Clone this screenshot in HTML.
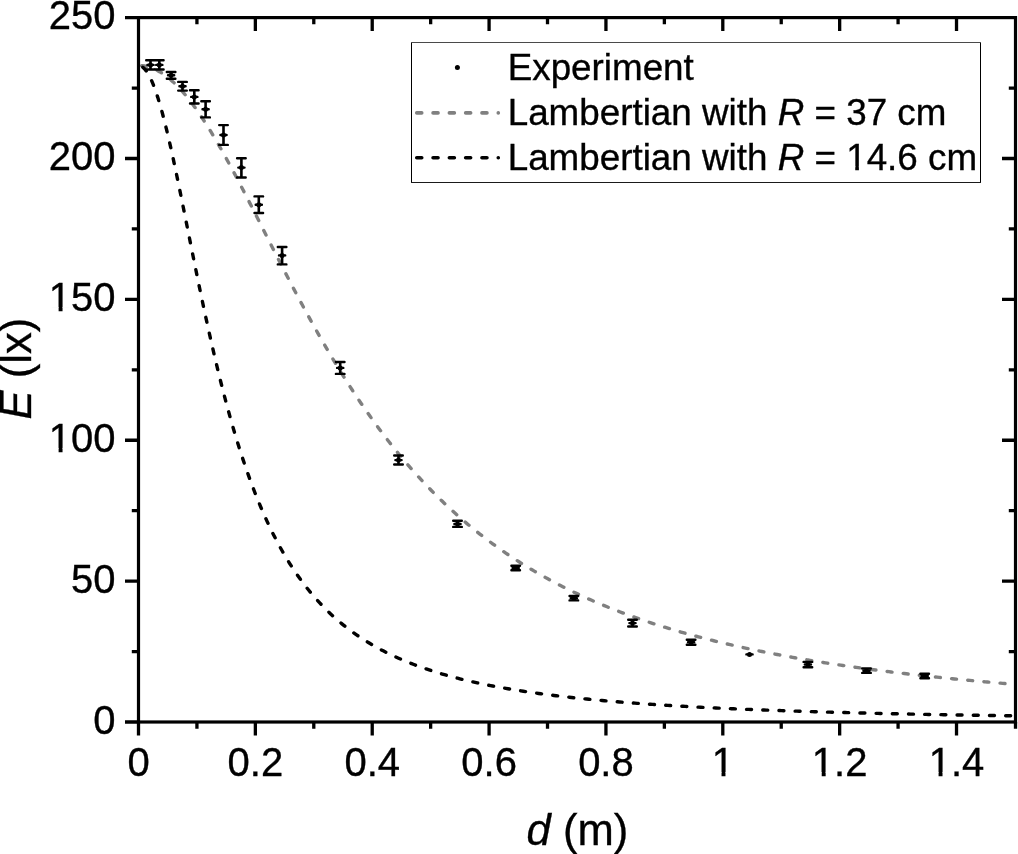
<!DOCTYPE html>
<html><head><meta charset="utf-8"><style>
html,body{margin:0;padding:0;background:#fff;overflow:hidden}
svg{display:block}
</style></head><body>
<svg width="1018" height="854" viewBox="0 0 1018 854">
<rect width="1018" height="854" fill="#fff"/>
<path d="M140.25,65.54 L142.44,65.72 L144.63,66.03 L146.82,66.47 L149.01,67.05 L151.20,67.76 L153.39,68.60 L155.58,69.57 L157.76,70.67 L159.95,71.90 L162.14,73.26 L164.33,74.74 L166.52,76.35 L168.71,78.07 L170.90,79.92 L173.09,81.88 L175.28,83.96 L177.46,86.15 L179.65,88.46 L181.84,90.87 L184.03,93.38 L186.22,96.00 L188.41,98.72 L190.60,101.53 L192.79,104.44 L194.98,107.44 L197.17,110.53 L199.35,113.70 L201.54,116.95 L203.73,120.28 L205.92,123.69 L208.11,127.17 L210.30,130.72 L212.49,134.33 L214.68,138.01 L216.87,141.74 L219.05,145.53 L221.24,149.38 L223.43,153.27 L225.62,157.22 L227.81,161.20 L230.00,165.23 L232.19,169.30 L234.38,173.40 L236.57,177.53 L238.75,181.69 L240.94,185.88 L243.13,190.09 L245.32,194.33 L247.51,198.58 L249.70,202.85 L251.89,207.13 L254.08,211.42 L256.27,215.73 L258.46,220.04 L260.64,224.35 L262.83,228.67 L265.02,232.99 L267.21,237.30 L269.40,241.61 L271.59,245.92 L273.78,250.22 L275.97,254.51 L278.16,258.79 L280.34,263.06 L282.53,267.32 L284.72,271.56 L286.91,275.78 L289.10,279.99 L291.29,284.18 L293.48,288.35 L295.67,292.49 L297.86,296.62 L300.05,300.72 L302.23,304.80 L304.42,308.85 L306.61,312.88 L308.80,316.88 L310.99,320.86 L313.18,324.80 L315.37,328.72 L317.56,332.61 L319.75,336.47 L321.93,340.30 L324.12,344.09 L326.31,347.86 L328.50,351.60 L330.69,355.30 L332.88,358.97 L335.07,362.61 L337.26,366.22 L339.45,369.79 L341.63,373.33 L343.82,376.84 L346.01,380.31 L348.20,383.75 L350.39,387.16 L352.58,390.53 L354.77,393.87 L356.96,397.17 L359.15,400.44 L361.34,403.68 L363.52,406.89 L365.71,410.06 L367.90,413.20 L370.09,416.30 L372.28,419.37 L374.47,422.41 L376.66,425.42 L378.85,428.39 L381.04,431.33 L383.22,434.24 L385.41,437.11 L387.60,439.95 L389.79,442.77 L391.98,445.55 L394.17,448.29 L396.36,451.01 L398.55,453.70 L400.74,456.35 L402.92,458.98 L405.11,461.57 L407.30,464.14 L409.49,466.67 L411.68,469.18 L413.87,471.66 L416.06,474.10 L418.25,476.52 L420.44,478.91 L422.63,481.28 L424.81,483.61 L427.00,485.92 L429.19,488.20 L431.38,490.45 L433.57,492.68 L435.76,494.88 L437.95,497.06 L440.14,499.21 L442.33,501.33 L444.51,503.43 L446.70,505.50 L448.89,507.55 L451.08,509.57 L453.27,511.58 L455.46,513.55 L457.65,515.51 L459.84,517.44 L462.03,519.34 L464.22,521.23 L466.40,523.09 L468.59,524.93 L470.78,526.75 L472.97,528.54 L475.16,530.32 L477.35,532.07 L479.54,533.81 L481.73,535.52 L483.92,537.21 L486.10,538.89 L488.29,540.54 L490.48,542.17 L492.67,543.79 L494.86,545.38 L497.05,546.96 L499.24,548.52 L501.43,550.06 L503.62,551.58 L505.80,553.08 L507.99,554.57 L510.18,556.04 L512.37,557.49 L514.56,558.93 L516.75,560.35 L518.94,561.75 L521.13,563.13 L523.32,564.50 L525.51,565.86 L527.69,567.20 L529.88,568.52 L532.07,569.83 L534.26,571.12 L536.45,572.40 L538.64,573.66 L540.83,574.91 L543.02,576.14 L545.21,577.37 L547.39,578.57 L549.58,579.77 L551.77,580.95 L553.96,582.11 L556.15,583.27 L558.34,584.41 L560.53,585.53 L562.72,586.65 L564.91,587.75 L567.10,588.84 L569.28,589.92 L571.47,590.99 L573.66,592.04 L575.85,593.08 L578.04,594.12 L580.23,595.14 L582.42,596.14 L584.61,597.14 L586.80,598.13 L588.98,599.10 L591.17,600.07 L593.36,601.02 L595.55,601.97 L597.74,602.90 L599.93,603.83 L602.12,604.74 L604.31,605.65 L606.50,606.54 L608.68,607.43 L610.87,608.30 L613.06,609.17 L615.25,610.03 L617.44,610.88 L619.63,611.72 L621.82,612.55 L624.01,613.37 L626.20,614.18 L628.39,614.99 L630.57,615.78 L632.76,616.57 L634.95,617.35 L637.14,618.12 L639.33,618.88 L641.52,619.64 L643.71,620.39 L645.90,621.13 L648.09,621.86 L650.27,622.59 L652.46,623.31 L654.65,624.02 L656.84,624.72 L659.03,625.42 L661.22,626.10 L663.41,626.79 L665.60,627.46 L667.79,628.13 L669.97,628.79 L672.16,629.45 L674.35,630.10 L676.54,630.74 L678.73,631.38 L680.92,632.01 L683.11,632.63 L685.30,633.25 L687.49,633.86 L689.68,634.46 L691.86,635.06 L694.05,635.66 L696.24,636.25 L698.43,636.83 L700.62,637.41 L702.81,637.98 L705.00,638.54 L707.19,639.10 L709.38,639.66 L711.56,640.21 L713.75,640.75 L715.94,641.29 L718.13,641.82 L720.32,642.35 L722.51,642.88 L724.70,643.40 L726.89,643.91 L729.08,644.42 L731.27,644.93 L733.45,645.43 L735.64,645.92 L737.83,646.41 L740.02,646.90 L742.21,647.38 L744.40,647.86 L746.59,648.33 L748.78,648.80 L750.97,649.26 L753.15,649.72 L755.34,650.18 L757.53,650.63 L759.72,651.08 L761.91,651.52 L764.10,651.96 L766.29,652.40 L768.48,652.83 L770.67,653.26 L772.85,653.68 L775.04,654.10 L777.23,654.52 L779.42,654.93 L781.61,655.34 L783.80,655.75 L785.99,656.15 L788.18,656.55 L790.37,656.95 L792.56,657.34 L794.74,657.73 L796.93,658.11 L799.12,658.49 L801.31,658.87 L803.50,659.25 L805.69,659.62 L807.88,659.99 L810.07,660.35 L812.26,660.72 L814.44,661.08 L816.63,661.43 L818.82,661.79 L821.01,662.14 L823.20,662.48 L825.39,662.83 L827.58,663.17 L829.77,663.51 L831.96,663.84 L834.14,664.18 L836.33,664.51 L838.52,664.84 L840.71,665.16 L842.90,665.48 L845.09,665.80 L847.28,666.12 L849.47,666.43 L851.66,666.75 L853.85,667.06 L856.03,667.36 L858.22,667.67 L860.41,667.97 L862.60,668.27 L864.79,668.57 L866.98,668.86 L869.17,669.15 L871.36,669.44 L873.55,669.73 L875.73,670.02 L877.92,670.30 L880.11,670.58 L882.30,670.86 L884.49,671.13 L886.68,671.41 L888.87,671.68 L891.06,671.95 L893.25,672.22 L895.44,672.49 L897.62,672.75 L899.81,673.01 L902.00,673.27 L904.19,673.53 L906.38,673.78 L908.57,674.04 L910.76,674.29 L912.95,674.54 L915.14,674.79 L917.32,675.03 L919.51,675.28 L921.70,675.52 L923.89,675.76 L926.08,676.00 L928.27,676.24 L930.46,676.47 L932.65,676.70 L934.84,676.94 L937.02,677.17 L939.21,677.39 L941.40,677.62 L943.59,677.84 L945.78,678.07 L947.97,678.29 L950.16,678.51 L952.35,678.73 L954.54,678.94 L956.73,679.16 L958.91,679.37 L961.10,679.58 L963.29,679.80 L965.48,680.00 L967.67,680.21 L969.86,680.42 L972.05,680.62 L974.24,680.82 L976.43,681.03 L978.61,681.23 L980.80,681.42 L982.99,681.62 L985.18,681.82 L987.37,682.01 L989.56,682.20 L991.75,682.40 L993.94,682.59 L996.13,682.78 L998.31,682.96 L1000.50,683.15 L1002.69,683.33 L1004.88,683.52 L1007.07,683.70 L1009.26,683.88 L1011.45,684.06 L1013.64,684.24 L1015.83,684.42" fill="none" stroke="#808080" stroke-width="3.4" stroke-linecap="round" stroke-dasharray="4.98 11.24" stroke-dashoffset="-1.44"/>
<path d="M140.25,65.78 L142.44,66.90 L144.63,68.87 L146.82,71.68 L149.01,75.31 L151.20,79.73 L153.39,84.90 L155.58,90.79 L157.76,97.35 L159.95,104.55 L162.14,112.33 L164.33,120.64 L166.52,129.43 L168.71,138.65 L170.90,148.25 L173.09,158.18 L175.28,168.39 L177.46,178.82 L179.65,189.44 L181.84,200.20 L184.03,211.05 L186.22,221.97 L188.41,232.91 L190.60,243.84 L192.79,254.73 L194.98,265.55 L197.17,276.28 L199.35,286.90 L201.54,297.39 L203.73,307.73 L205.92,317.90 L208.11,327.90 L210.30,337.71 L212.49,347.33 L214.68,356.75 L216.87,365.95 L219.05,374.95 L221.24,383.73 L223.43,392.30 L225.62,400.65 L227.81,408.79 L230.00,416.71 L232.19,424.42 L234.38,431.92 L236.57,439.21 L238.75,446.29 L240.94,453.17 L243.13,459.86 L245.32,466.35 L247.51,472.66 L249.70,478.77 L251.89,484.71 L254.08,490.48 L256.27,496.07 L258.46,501.49 L260.64,506.76 L262.83,511.87 L265.02,516.82 L267.21,521.63 L269.40,526.29 L271.59,530.82 L273.78,535.21 L275.97,539.47 L278.16,543.60 L280.34,547.62 L282.53,551.51 L284.72,555.29 L286.91,558.96 L289.10,562.52 L291.29,565.98 L293.48,569.34 L295.67,572.60 L297.86,575.77 L300.05,578.85 L302.23,581.84 L304.42,584.74 L306.61,587.57 L308.80,590.31 L310.99,592.98 L313.18,595.57 L315.37,598.10 L317.56,600.55 L319.75,602.94 L321.93,605.26 L324.12,607.52 L326.31,609.72 L328.50,611.86 L330.69,613.94 L332.88,615.97 L335.07,617.95 L337.26,619.87 L339.45,621.75 L341.63,623.58 L343.82,625.36 L346.01,627.09 L348.20,628.78 L350.39,630.43 L352.58,632.04 L354.77,633.61 L356.96,635.14 L359.15,636.63 L361.34,638.08 L363.52,639.50 L365.71,640.89 L367.90,642.24 L370.09,643.56 L372.28,644.85 L374.47,646.11 L376.66,647.35 L378.85,648.55 L381.04,649.72 L383.22,650.87 L385.41,651.99 L387.60,653.09 L389.79,654.16 L391.98,655.21 L394.17,656.23 L396.36,657.23 L398.55,658.21 L400.74,659.17 L402.92,660.11 L405.11,661.03 L407.30,661.93 L409.49,662.81 L411.68,663.67 L413.87,664.51 L416.06,665.34 L418.25,666.14 L420.44,666.94 L422.63,667.71 L424.81,668.47 L427.00,669.22 L429.19,669.94 L431.38,670.66 L433.57,671.36 L435.76,672.05 L437.95,672.72 L440.14,673.38 L442.33,674.03 L444.51,674.66 L446.70,675.28 L448.89,675.89 L451.08,676.49 L453.27,677.08 L455.46,677.66 L457.65,678.22 L459.84,678.78 L462.03,679.32 L464.22,679.86 L466.40,680.38 L468.59,680.90 L470.78,681.40 L472.97,681.90 L475.16,682.39 L477.35,682.87 L479.54,683.34 L481.73,683.80 L483.92,684.26 L486.10,684.71 L488.29,685.14 L490.48,685.58 L492.67,686.00 L494.86,686.42 L497.05,686.83 L499.24,687.23 L501.43,687.63 L503.62,688.02 L505.80,688.40 L507.99,688.78 L510.18,689.15 L512.37,689.51 L514.56,689.87 L516.75,690.22 L518.94,690.57 L521.13,690.91 L523.32,691.25 L525.51,691.58 L527.69,691.90 L529.88,692.23 L532.07,692.54 L534.26,692.85 L536.45,693.16 L538.64,693.46 L540.83,693.75 L543.02,694.05 L545.21,694.33 L547.39,694.62 L549.58,694.90 L551.77,695.17 L553.96,695.44 L556.15,695.71 L558.34,695.97 L560.53,696.23 L562.72,696.48 L564.91,696.73 L567.10,696.98 L569.28,697.23 L571.47,697.47 L573.66,697.70 L575.85,697.94 L578.04,698.17 L580.23,698.40 L582.42,698.62 L584.61,698.84 L586.80,699.06 L588.98,699.27 L591.17,699.48 L593.36,699.69 L595.55,699.90 L597.74,700.10 L599.93,700.30 L602.12,700.50 L604.31,700.70 L606.50,700.89 L608.68,701.08 L610.87,701.27 L613.06,701.45 L615.25,701.63 L617.44,701.81 L619.63,701.99 L621.82,702.17 L624.01,702.34 L626.20,702.51 L628.39,702.68 L630.57,702.84 L632.76,703.01 L634.95,703.17 L637.14,703.33 L639.33,703.49 L641.52,703.65 L643.71,703.80 L645.90,703.95 L648.09,704.10 L650.27,704.25 L652.46,704.40 L654.65,704.54 L656.84,704.69 L659.03,704.83 L661.22,704.97 L663.41,705.11 L665.60,705.24 L667.79,705.38 L669.97,705.51 L672.16,705.64 L674.35,705.77 L676.54,705.90 L678.73,706.03 L680.92,706.15 L683.11,706.28 L685.30,706.40 L687.49,706.52 L689.68,706.64 L691.86,706.76 L694.05,706.88 L696.24,706.99 L698.43,707.11 L700.62,707.22 L702.81,707.33 L705.00,707.44 L707.19,707.55 L709.38,707.66 L711.56,707.77 L713.75,707.87 L715.94,707.98 L718.13,708.08 L720.32,708.18 L722.51,708.28 L724.70,708.38 L726.89,708.48 L729.08,708.58 L731.27,708.68 L733.45,708.77 L735.64,708.87 L737.83,708.96 L740.02,709.06 L742.21,709.15 L744.40,709.24 L746.59,709.33 L748.78,709.42 L750.97,709.51 L753.15,709.59 L755.34,709.68 L757.53,709.76 L759.72,709.85 L761.91,709.93 L764.10,710.02 L766.29,710.10 L768.48,710.18 L770.67,710.26 L772.85,710.34 L775.04,710.42 L777.23,710.49 L779.42,710.57 L781.61,710.65 L783.80,710.72 L785.99,710.80 L788.18,710.87 L790.37,710.95 L792.56,711.02 L794.74,711.09 L796.93,711.16 L799.12,711.23 L801.31,711.30 L803.50,711.37 L805.69,711.44 L807.88,711.51 L810.07,711.57 L812.26,711.64 L814.44,711.71 L816.63,711.77 L818.82,711.84 L821.01,711.90 L823.20,711.96 L825.39,712.03 L827.58,712.09 L829.77,712.15 L831.96,712.21 L834.14,712.27 L836.33,712.33 L838.52,712.39 L840.71,712.45 L842.90,712.51 L845.09,712.57 L847.28,712.63 L849.47,712.68 L851.66,712.74 L853.85,712.79 L856.03,712.85 L858.22,712.90 L860.41,712.96 L862.60,713.01 L864.79,713.07 L866.98,713.12 L869.17,713.17 L871.36,713.22 L873.55,713.27 L875.73,713.33 L877.92,713.38 L880.11,713.43 L882.30,713.48 L884.49,713.53 L886.68,713.57 L888.87,713.62 L891.06,713.67 L893.25,713.72 L895.44,713.77 L897.62,713.81 L899.81,713.86 L902.00,713.91 L904.19,713.95 L906.38,714.00 L908.57,714.04 L910.76,714.09 L912.95,714.13 L915.14,714.17 L917.32,714.22 L919.51,714.26 L921.70,714.30 L923.89,714.34 L926.08,714.39 L928.27,714.43 L930.46,714.47 L932.65,714.51 L934.84,714.55 L937.02,714.59 L939.21,714.63 L941.40,714.67 L943.59,714.71 L945.78,714.75 L947.97,714.79 L950.16,714.83 L952.35,714.87 L954.54,714.90 L956.73,714.94 L958.91,714.98 L961.10,715.01 L963.29,715.05 L965.48,715.09 L967.67,715.12 L969.86,715.16 L972.05,715.20 L974.24,715.23 L976.43,715.27 L978.61,715.30 L980.80,715.33 L982.99,715.37 L985.18,715.40 L987.37,715.44 L989.56,715.47 L991.75,715.50 L993.94,715.54 L996.13,715.57 L998.31,715.60 L1000.50,715.63 L1002.69,715.66 L1004.88,715.70 L1007.07,715.73 L1009.26,715.76 L1011.45,715.79 L1013.64,715.82 L1015.83,715.85" fill="none" stroke="#000" stroke-width="3.4" stroke-linecap="round" stroke-dasharray="4.97 11.23" stroke-dashoffset="-3.0"/>
<path d="M150.50,60.30V69.50M159.30,60.30V69.50M171.10,72.00V78.70M182.50,81.90V90.60M194.30,90.30V103.50M205.60,101.20V117.40M223.50,125.10V144.90M241.40,158.30V177.50M258.80,196.40V213.00M282.10,247.00V264.40M340.20,362.00V373.90M398.50,455.50V464.50M457.50,520.80V526.90M515.70,565.70V570.20M573.85,596.00V600.40M632.50,619.80V626.50M691.10,639.80V644.80M807.90,661.90V667.20M866.50,668.50V672.90M924.70,673.80V678.20" fill="none" stroke="#000" stroke-width="2.6"/>
<path d="M146.20,60.30H154.80M146.20,69.50H154.80M155.00,60.30H163.60M155.00,69.50H163.60M166.80,72.00H175.40M166.80,78.70H175.40M178.20,81.90H186.80M178.20,90.60H186.80M190.00,90.30H198.60M190.00,103.50H198.60M201.30,101.20H209.90M201.30,117.40H209.90M219.20,125.10H227.80M219.20,144.90H227.80M237.10,158.30H245.70M237.10,177.50H245.70M254.50,196.40H263.10M254.50,213.00H263.10M277.80,247.00H286.40M277.80,264.40H286.40M335.90,362.00H344.50M335.90,373.90H344.50M394.20,455.50H402.80M394.20,464.50H402.80M453.20,520.80H461.80M453.20,526.90H461.80M511.40,565.70H520.00M511.40,570.20H520.00M569.55,596.00H578.15M569.55,600.40H578.15M628.20,619.80H636.80M628.20,626.50H636.80M686.80,639.80H695.40M686.80,644.80H695.40M803.60,661.90H812.20M803.60,667.20H812.20M862.20,668.50H870.80M862.20,672.90H870.80M920.40,673.80H929.00M920.40,678.20H929.00" fill="none" stroke="#000" stroke-width="2.4" stroke-linecap="round"/>
<path d="M147.40,64.90H153.60M156.20,64.90H162.40M168.00,75.30H174.20M179.40,86.20H185.60M191.20,96.90H197.40M202.50,109.30H208.70M220.40,135.00H226.60M238.30,167.60H244.50M255.70,204.80H261.90M279.00,255.40H285.20M337.10,367.90H343.30M395.40,460.10H401.60M454.40,524.00H460.60M512.60,568.00H518.80M570.75,598.20H576.95M629.40,623.10H635.60M688.00,642.30H694.20M746.40,654.40H752.60M804.80,664.50H811.00M863.40,670.70H869.60M921.60,676.00H927.80" fill="none" stroke="#000" stroke-width="2.4" stroke-linecap="round"/>
<circle cx="150.50" cy="64.90" r="2.5" fill="#000"/>
<circle cx="159.30" cy="64.90" r="2.5" fill="#000"/>
<circle cx="171.10" cy="75.30" r="2.5" fill="#000"/>
<circle cx="182.50" cy="86.20" r="2.5" fill="#000"/>
<circle cx="194.30" cy="96.90" r="2.5" fill="#000"/>
<circle cx="205.60" cy="109.30" r="2.5" fill="#000"/>
<circle cx="223.50" cy="135.00" r="2.5" fill="#000"/>
<circle cx="241.40" cy="167.60" r="2.5" fill="#000"/>
<circle cx="258.80" cy="204.80" r="2.5" fill="#000"/>
<circle cx="282.10" cy="255.40" r="2.5" fill="#000"/>
<circle cx="340.20" cy="367.90" r="2.5" fill="#000"/>
<circle cx="398.50" cy="460.10" r="2.5" fill="#000"/>
<circle cx="457.50" cy="524.00" r="2.5" fill="#000"/>
<circle cx="515.70" cy="568.00" r="2.5" fill="#000"/>
<circle cx="573.85" cy="598.20" r="2.5" fill="#000"/>
<circle cx="632.50" cy="623.10" r="2.5" fill="#000"/>
<circle cx="691.10" cy="642.30" r="2.5" fill="#000"/>
<circle cx="749.50" cy="654.40" r="2.5" fill="#000"/>
<circle cx="807.90" cy="664.50" r="2.5" fill="#000"/>
<circle cx="866.50" cy="670.70" r="2.5" fill="#000"/>
<circle cx="924.70" cy="676.00" r="2.5" fill="#000"/>
<rect x="138.50" y="17.60" width="877.00" height="704.40" fill="none" stroke="#000" stroke-width="3.2" stroke-linecap="square"/>
<path d="M138.50,722.00V735.50M196.93,722.00V728.70M196.93,17.60V24.30M255.36,722.00V735.50M255.36,17.60V31.10M313.79,722.00V728.70M313.79,17.60V24.30M372.22,722.00V735.50M372.22,17.60V31.10M430.65,722.00V728.70M430.65,17.60V24.30M489.08,722.00V735.50M489.08,17.60V31.10M547.51,722.00V728.70M547.51,17.60V24.30M605.94,722.00V735.50M605.94,17.60V31.10M664.37,722.00V728.70M664.37,17.60V24.30M722.80,722.00V735.50M722.80,17.60V31.10M781.23,722.00V728.70M781.23,17.60V24.30M839.66,722.00V735.50M839.66,17.60V31.10M898.09,722.00V728.70M898.09,17.60V24.30M956.52,722.00V735.50M956.52,17.60V31.10M1015.50,722.00V728.70M138.50,722.00H125.00M138.50,651.56H131.80M1015.50,651.56H1008.80M138.50,581.12H125.00M1015.50,581.12H1002.00M138.50,510.68H131.80M1015.50,510.68H1008.80M138.50,440.24H125.00M1015.50,440.24H1002.00M138.50,369.80H131.80M1015.50,369.80H1008.80M138.50,299.36H125.00M1015.50,299.36H1002.00M138.50,228.92H131.80M1015.50,228.92H1008.80M138.50,158.48H125.00M1015.50,158.48H1002.00M138.50,88.04H131.80M1015.50,88.04H1008.80M138.50,17.60H125.00" fill="none" stroke="#000" stroke-width="3.3"/>
<text x="115.5" y="733.70" font-family="&apos;Liberation Sans&apos;, Arial, sans-serif" stroke="#000" stroke-width="0.35" font-size="40" text-anchor="end">0</text>
<text x="115.5" y="592.82" font-family="&apos;Liberation Sans&apos;, Arial, sans-serif" stroke="#000" stroke-width="0.35" font-size="40" text-anchor="end">50</text>
<text x="115.5" y="451.94" font-family="&apos;Liberation Sans&apos;, Arial, sans-serif" stroke="#000" stroke-width="0.35" font-size="40" text-anchor="end">100</text>
<text x="115.5" y="311.06" font-family="&apos;Liberation Sans&apos;, Arial, sans-serif" stroke="#000" stroke-width="0.35" font-size="40" text-anchor="end">150</text>
<text x="115.5" y="170.18" font-family="&apos;Liberation Sans&apos;, Arial, sans-serif" stroke="#000" stroke-width="0.35" font-size="40" text-anchor="end">200</text>
<text x="115.5" y="29.30" font-family="&apos;Liberation Sans&apos;, Arial, sans-serif" stroke="#000" stroke-width="0.35" font-size="40" text-anchor="end">250</text>
<text x="138.50" y="776" font-family="&apos;Liberation Sans&apos;, Arial, sans-serif" stroke="#000" stroke-width="0.35" font-size="40" text-anchor="middle">0</text>
<text x="255.36" y="776" font-family="&apos;Liberation Sans&apos;, Arial, sans-serif" stroke="#000" stroke-width="0.35" font-size="40" text-anchor="middle">0.2</text>
<text x="372.22" y="776" font-family="&apos;Liberation Sans&apos;, Arial, sans-serif" stroke="#000" stroke-width="0.35" font-size="40" text-anchor="middle">0.4</text>
<text x="489.08" y="776" font-family="&apos;Liberation Sans&apos;, Arial, sans-serif" stroke="#000" stroke-width="0.35" font-size="40" text-anchor="middle">0.6</text>
<text x="605.94" y="776" font-family="&apos;Liberation Sans&apos;, Arial, sans-serif" stroke="#000" stroke-width="0.35" font-size="40" text-anchor="middle">0.8</text>
<text x="722.80" y="776" font-family="&apos;Liberation Sans&apos;, Arial, sans-serif" stroke="#000" stroke-width="0.35" font-size="40" text-anchor="middle">1</text>
<text x="839.66" y="776" font-family="&apos;Liberation Sans&apos;, Arial, sans-serif" stroke="#000" stroke-width="0.35" font-size="40" text-anchor="middle">1.2</text>
<text x="956.52" y="776" font-family="&apos;Liberation Sans&apos;, Arial, sans-serif" stroke="#000" stroke-width="0.35" font-size="40" text-anchor="middle">1.4</text>
<text x="577.4" y="845" font-family="&apos;Liberation Sans&apos;, Arial, sans-serif" stroke="#000" stroke-width="0.35" font-size="43.6" text-anchor="middle"><tspan font-style="italic">d</tspan> (m)</text>
<text transform="translate(31.2,368.6) rotate(-90)" font-family="&apos;Liberation Sans&apos;, Arial, sans-serif" stroke="#000" stroke-width="0.35" font-size="43.6" text-anchor="middle"><tspan font-style="italic">E</tspan> (lx)</text>
<rect x="411.5" y="42.5" width="569" height="140" fill="#fff"/>
<path d="M411.5,42V183M980.5,42V183" stroke="#000" stroke-width="1"/>
<path d="M411,42.5H981" stroke="#4a4a4a" stroke-width="1"/>
<path d="M411,182.5H981" stroke="#1a1a1a" stroke-width="1"/>
<circle cx="457.4" cy="67.4" r="2.5" fill="#000"/>
<path d="M416.75,112.9H498.3" stroke="#808080" stroke-width="3.6" stroke-linecap="round" stroke-dasharray="5 11.3"/>
<path d="M416.75,157.7H498.3" stroke="#000" stroke-width="3.6" stroke-linecap="round" stroke-dasharray="5 11.3"/>
<text x="507.7" y="80" font-family="&apos;Liberation Sans&apos;, Arial, sans-serif" stroke="#000" stroke-width="0.35" font-size="36.8">Experiment</text>
<text x="507.7" y="124.6" font-family="&apos;Liberation Sans&apos;, Arial, sans-serif" stroke="#000" stroke-width="0.35" font-size="36.8">Lambertian with <tspan font-style="italic">R</tspan> = 37 cm</text>
<text x="507.7" y="169.9" font-family="&apos;Liberation Sans&apos;, Arial, sans-serif" stroke="#000" stroke-width="0.35" font-size="36.8">Lambertian with <tspan font-style="italic">R</tspan> = 14.6 cm</text>
<rect x="50.51" y="447.95" width="8.10" height="5.29" fill="#fff"/>
<rect x="62.54" y="447.95" width="8.09" height="5.29" fill="#fff"/>
<rect x="50.51" y="307.07" width="8.10" height="5.29" fill="#fff"/>
<rect x="62.54" y="307.07" width="8.09" height="5.29" fill="#fff"/>
<rect x="713.43" y="772.01" width="8.10" height="5.29" fill="#fff"/>
<rect x="725.47" y="772.01" width="8.09" height="5.29" fill="#fff"/>
<rect x="813.61" y="772.01" width="8.10" height="5.29" fill="#fff"/>
<rect x="825.65" y="772.01" width="8.09" height="5.29" fill="#fff"/>
<rect x="930.47" y="772.01" width="8.10" height="5.29" fill="#fff"/>
<rect x="942.51" y="772.01" width="8.09" height="5.29" fill="#fff"/>
<rect x="847.80" y="166.15" width="7.44" height="5.05" fill="#fff"/>
<rect x="858.89" y="166.15" width="7.44" height="5.05" fill="#fff"/>
</svg>
</body></html>
